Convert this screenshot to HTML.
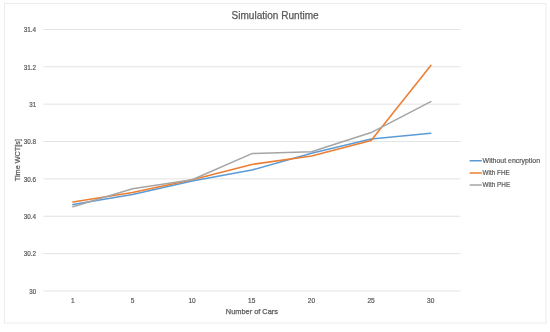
<!DOCTYPE html>
<html><head><meta charset="utf-8"><style>
html,body{margin:0;padding:0;background:#fff;}
svg{display:block;}
text{font-family:"Liberation Sans",sans-serif;fill:#595959;stroke:#595959;stroke-width:0.2px;}
.tt{stroke-width:0.25px;}
</style></head><body>
<svg width="550" height="332" viewBox="0 0 550 332">
<rect x="0" y="0" width="550" height="332" fill="#fff"/>
<rect x="4.5" y="3.5" width="541.5" height="319.5" fill="#fff" stroke="#ececec" stroke-width="1"/>
<text class="tt" x="275.1" y="18.9" font-size="10.0" text-anchor="middle" textLength="87.06" lengthAdjust="spacingAndGlyphs">Simulation Runtime</text>
<g stroke="#d9d9d9" stroke-width="0.75"><line x1="43.3" x2="460.5" y1="29.45" y2="29.45"/><line x1="43.3" x2="460.5" y1="66.81" y2="66.81"/><line x1="43.3" x2="460.5" y1="104.17" y2="104.17"/><line x1="43.3" x2="460.5" y1="141.53" y2="141.53"/><line x1="43.3" x2="460.5" y1="178.89" y2="178.89"/><line x1="43.3" x2="460.5" y1="216.25" y2="216.25"/><line x1="43.3" x2="460.5" y1="253.61" y2="253.61"/><line x1="43.3" x2="460.5" y1="290.97" y2="290.97"/></g>
<g font-size="6.9" text-anchor="end"><text x="36.1" y="32.25" textLength="12.37" lengthAdjust="spacingAndGlyphs">31.4</text><text x="36.1" y="69.61" textLength="12.37" lengthAdjust="spacingAndGlyphs">31.2</text><text x="36.1" y="106.97" textLength="6.90" lengthAdjust="spacingAndGlyphs">31</text><text x="36.1" y="144.33" textLength="12.37" lengthAdjust="spacingAndGlyphs">30.8</text><text x="36.1" y="181.69" textLength="12.37" lengthAdjust="spacingAndGlyphs">30.6</text><text x="36.1" y="219.05" textLength="12.37" lengthAdjust="spacingAndGlyphs">30.4</text><text x="36.1" y="256.41" textLength="12.37" lengthAdjust="spacingAndGlyphs">30.2</text><text x="36.1" y="293.77" textLength="6.90" lengthAdjust="spacingAndGlyphs">30</text></g>
<g font-size="6.9" text-anchor="middle"><text x="72.80" y="302.6" textLength="3.65" lengthAdjust="spacingAndGlyphs">1</text><text x="132.45" y="302.6" textLength="3.65" lengthAdjust="spacingAndGlyphs">5</text><text x="192.10" y="302.6" textLength="7.30" lengthAdjust="spacingAndGlyphs">10</text><text x="251.75" y="302.6" textLength="7.30" lengthAdjust="spacingAndGlyphs">15</text><text x="311.40" y="302.6" textLength="7.30" lengthAdjust="spacingAndGlyphs">20</text><text x="371.05" y="302.6" textLength="7.30" lengthAdjust="spacingAndGlyphs">25</text><text x="430.70" y="302.6" textLength="7.30" lengthAdjust="spacingAndGlyphs">30</text></g>
<text class="tt" font-size="7.65" text-anchor="middle" x="251.9" y="314.1" textLength="52.16" lengthAdjust="spacingAndGlyphs">Number of Cars</text>
<text class="tt" font-size="7.65" text-anchor="middle" transform="translate(20.1,160.1) rotate(-90)" textLength="42.22" lengthAdjust="spacingAndGlyphs">Time WCT[s]</text>
<g fill="none" stroke-width="1.55" stroke-linejoin="round" stroke-linecap="round">
<polyline stroke="#5B9BD5" points="72.90,204.6 132.55,194.5 192.20,181.0 251.85,170.1 311.50,153.2 371.15,138.9 430.80,133.2"/>
<polyline stroke="#ED7D31" points="72.90,202.0 132.55,192.4 192.20,179.8 251.85,164.4 311.50,155.9 371.15,140.4 430.80,65.4"/>
<polyline stroke="#A5A5A5" points="72.90,206.8 132.55,188.8 192.20,179.8 251.85,153.6 311.50,151.8 371.15,132.6 430.80,101.6"/>
</g>
<g stroke-width="1.5" stroke-linecap="round">
<line x1="470.2" x2="481.3" y1="160.7" y2="160.7" stroke="#5B9BD5"/>
<line x1="470.2" x2="481.3" y1="172.9" y2="172.9" stroke="#ED7D31"/>
<line x1="470.2" x2="481.3" y1="185.1" y2="185.1" stroke="#A5A5A5"/>
</g>
<g font-size="6.9">
<text x="482.6" y="163.1" textLength="57.43" lengthAdjust="spacingAndGlyphs">Without encryption</text>
<text x="482.6" y="175.3" textLength="27.19" lengthAdjust="spacingAndGlyphs">With FHE</text>
<text x="482.6" y="187.4" textLength="27.60" lengthAdjust="spacingAndGlyphs">With PHE</text>
</g>
</svg>
</body></html>
